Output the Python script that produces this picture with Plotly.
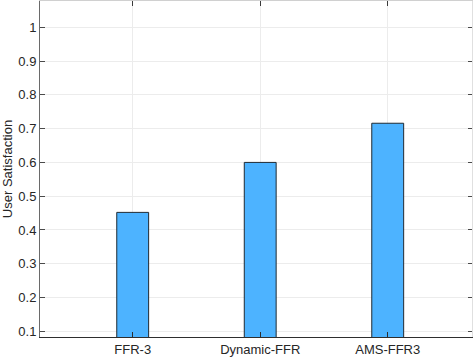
import plotly.graph_objects as go

categories = ["FFR-3", "Dynamic-FFR", "AMS-FFR3"]
positions = [1, 2, 3]
satisfaction = [0.452, 0.600, 0.716]
y_ticks = [0.1, 0.2, 0.3, 0.4, 0.5, 0.6, 0.7, 0.8, 0.9, 1.0]
y_tick_labels = ["0.1", "0.2", "0.3", "0.4", "0.5", "0.6", "0.7", "0.8", "0.9", "1"]

xr = [0.273, 3.661]
yr = [0.083, 1.078]
font = dict(family="Liberation Sans, Arial, Helvetica, sans-serif", size=13, color="#262626")

fig = go.Figure()
fig.add_trace(go.Bar(
    x=positions, y=satisfaction, width=0.25,
    marker=dict(color="#4DB3FF", line=dict(color="#1f2a33", width=1)),
    base=0,
))
# helper trace to bring up top/right mirror axes
fig.add_trace(go.Scatter(x=[], y=[], xaxis="x2", yaxis="y2", showlegend=False))

fig.update_layout(
    width=474, height=359,
    margin=dict(l=40, r=2, t=1, b=22),
    paper_bgcolor="white", plot_bgcolor="white",
    showlegend=False,
    font=font,
    xaxis=dict(range=xr, tickvals=positions, ticktext=categories,
               showgrid=True, gridcolor="#ececec", gridwidth=1,
               showline=True, linecolor="#2e2e2e", linewidth=1,
               ticks="inside", ticklen=5, tickcolor="#2e2e2e",
               zeroline=False, tickfont=font, automargin=False),
    yaxis=dict(range=yr, tickvals=y_ticks, ticktext=y_tick_labels,
               showgrid=True, gridcolor="#ececec", gridwidth=1,
               showline=True, linecolor="#6a6a6a", linewidth=1,
               ticks="inside", ticklen=5, tickcolor="#4a4a4a",
               zeroline=False, tickfont=font, automargin=False,
               title=dict(text="User Satisfaction", font=font, standoff=4)),
    xaxis2=dict(range=xr, overlaying="x", side="top", tickvals=positions,
                showticklabels=False, showgrid=False, zeroline=False,
                showline=True, linecolor="#d0d0d0", linewidth=2,
                ticks="inside", ticklen=5, tickcolor="#3a3a3a"),
    yaxis2=dict(range=yr, overlaying="y", side="right", tickvals=y_ticks,
                showticklabels=False, showgrid=False, zeroline=False,
                showline=True, linecolor="#e0e0e0", linewidth=1,
                ticks="inside", ticklen=4, tickcolor="#4a4a4a"),
)

fig.write_html("out.html", config={"displayModeBar": False},
               post_script="document.body.style.margin='0';")
